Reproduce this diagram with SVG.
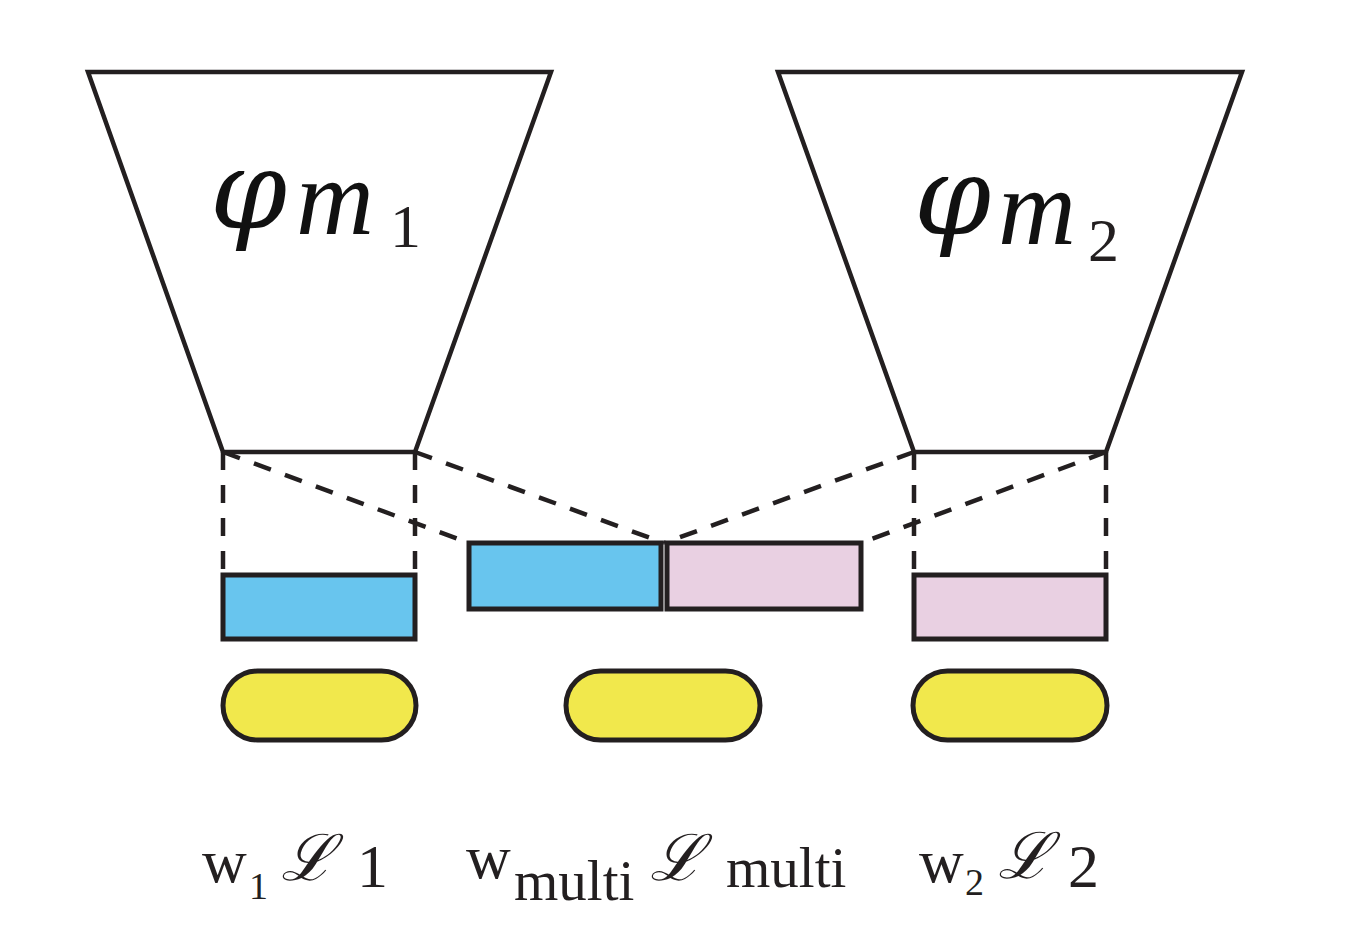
<svg xmlns="http://www.w3.org/2000/svg" width="1346" height="934" viewBox="0 0 1346 934">
<style>
.ln{fill:none;stroke:#231F20;stroke-width:4.5;stroke-linejoin:miter}
.ds{fill:none;stroke:#231F20;stroke-width:4.5;stroke-dasharray:18 15}
.bx{stroke:#231F20;stroke-width:5}
.blue{fill:#68C5EE}
.pink{fill:#E9D0E2}
.pill{fill:#F1E84C;stroke:#231F20;stroke-width:5}
.t{font-family:"Liberation Serif","DejaVu Serif",serif;fill:#231F20}
.m{font-family:"Liberation Serif","DejaVu Serif",serif;font-style:italic;fill:#111}
.ph{font-family:"DejaVu Serif","Liberation Serif",serif;font-style:italic;fill:#111}
.sc{font-family:"DejaVu Serif","Liberation Serif",serif;font-style:italic;fill:#231F20}
</style>
<rect width="1346" height="934" fill="#fff"/>
<g id="encoder1">
<polygon class="ln" points="88,72 551,72 415,452 223,452"/>
<text class="ph" x="210" y="228" font-size="110">φ</text>
<text class="m" x="296" y="234" font-size="108">m</text>
<text class="t" x="390" y="247" font-size="62">1</text>
</g>
<g id="encoder2">
<polygon class="ln" points="778,72 1242,72 1106,452 914,452"/>
<text class="ph" x="914" y="234" font-size="110">φ</text>
<text class="m" x="998" y="244" font-size="108">m</text>
<text class="t" x="1088" y="261" font-size="62">2</text>
</g>
<g id="connectors">
<line class="ds" x1="223" y1="452" x2="223" y2="575"/>
<line class="ds" x1="415" y1="452" x2="415" y2="575"/>
<line class="ds" x1="914" y1="452" x2="914" y2="575"/>
<line class="ds" x1="1106" y1="452" x2="1106" y2="575"/>
<line class="ds" x1="223" y1="452" x2="469" y2="543"/>
<line class="ds" x1="415" y1="452" x2="664" y2="543"/>
<line class="ds" x1="914" y1="452" x2="664" y2="543"/>
<line class="ds" x1="1106" y1="452" x2="861" y2="543"/>
</g>
<g id="feat1"><rect class="bx blue" x="223" y="575" width="192" height="64"/></g>
<g id="featMultiA"><rect class="bx blue" x="469" y="543" width="192" height="66"/></g>
<g id="featMultiB"><rect class="bx pink" x="667" y="543" width="194" height="66"/></g>
<g id="feat2"><rect class="bx pink" x="914" y="575" width="192" height="64"/></g>
<g id="loss1"><rect class="pill" x="223" y="671" width="193" height="69" rx="34.5"/></g>
<g id="lossMulti"><rect class="pill" x="566" y="671" width="194" height="69" rx="34.5"/></g>
<g id="loss2"><rect class="pill" x="913" y="671" width="194" height="69" rx="34.5"/></g>
<g id="label1">
<text class="t" x="202" y="882" font-size="62">w</text>
<text class="t" x="249" y="899" font-size="38">1</text>
<text class="sc" x="281" y="880" font-size="64">ℒ</text>
<text class="t" x="357" y="887" font-size="62">1</text>
</g>
<g id="labelMulti">
<text class="t" x="466" y="878" font-size="62">w</text>
<text class="t" x="514" y="900" font-size="57">multi</text>
<text class="sc" x="650" y="880" font-size="64">ℒ</text>
<text class="t" x="726" y="887" font-size="57">multi</text>
</g>
<g id="label2">
<text class="t" x="919" y="882" font-size="62">w</text>
<text class="t" x="965" y="895" font-size="38">2</text>
<text class="sc" x="998" y="878" font-size="64">ℒ</text>
<text class="t" x="1068" y="887" font-size="62">2</text>
</g>
</svg>
